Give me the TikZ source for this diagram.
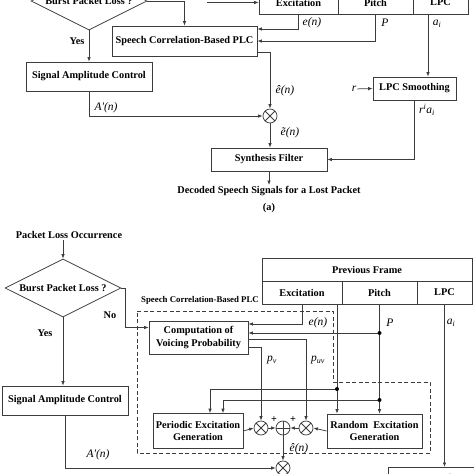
\documentclass[tikz,border=0pt]{standalone}
\usepackage{fontspec}
\setmainfont{Liberation Serif}
\usetikzlibrary{shapes.geometric, arrows.meta, positioning, calc}
\definecolor{linegray}{RGB}{60,60,60}

\begin{document}
\begin{tikzpicture}[
    x=1pt, y=-1pt,
    box/.style={rectangle, draw=linegray, line width=0.75pt, inner sep=0pt, align=center, font=\fontsize{10.3}{12.5}\selectfont\bfseries},
    cell/.style={box, minimum height=23pt},
    decision/.style={diamond, draw=linegray, line width=0.75pt, aspect=2, inner sep=0pt, minimum width=116pt, minimum height=58pt, font=\fontsize{10.3}{12.5}\selectfont\bfseries},
    mult/.style={circle, draw=linegray, line width=0.75pt, minimum size=14pt, inner sep=0pt,
        path picture={\draw[linegray, line width=0.75pt] ([shift={(45:7pt)}]path picture bounding box.center) -- ([shift={(225:7pt)}]path picture bounding box.center)
            ([shift={(135:7pt)}]path picture bounding box.center) -- ([shift={(315:7pt)}]path picture bounding box.center);}},
    adder/.style={circle, draw=linegray, line width=0.75pt, minimum size=14pt, inner sep=0pt,
        path picture={\draw[linegray, line width=0.75pt] ([shift={(0:7pt)}]path picture bounding box.center) -- ([shift={(180:7pt)}]path picture bounding box.center)
            ([shift={(90:7pt)}]path picture bounding box.center) -- ([shift={(270:7pt)}]path picture bounding box.center);}},
    plain/.style={font=\fontsize{10.3}{12.5}\selectfont\bfseries, inner sep=1pt},
    lbl/.style={font=\fontsize{11.5}{13}\selectfont\itshape, inner sep=1pt},
    arrow/.style={-{Latex[length=4.5pt, width=3.5pt]}, draw=linegray, line width=0.75pt},
    dashedbox/.style={draw=linegray, line width=0.75pt, dash pattern=on 4pt off 2.5pt},
    dot/.style={circle, fill=black, inner sep=0pt, minimum size=4pt}
]
    \useasboundingbox (0,0) rectangle (474,474);
    \clip (0,0) rectangle (474,474);

    % (a) upper flow
    \node[decision] (diaA) at (89,1) {Burst Packet Loss ?};
    \node[box, minimum width=145pt, minimum height=30pt] (spcA) at (184.5,41) {Speech Correlation-Based PLC};
    \node[box, minimum width=126pt, minimum height=29pt] (sascA) at (89,76.5) {Signal Amplitude Control};
    \node[cell, minimum width=79pt] (excA) at (298.5,2.5) {Excitation};
    \node[cell, minimum width=75pt] (pitA) at (375.5,2.5) {Pitch};
    \node[cell, minimum width=55pt] (lpcA) at (440.5,2.5) {LPC};
    \node[box, minimum width=83pt, minimum height=23pt] (lpcsA) at (414.5,88.5) {LPC Smoothing};
    \node[mult] (mulA) at (270,116) {};
    \node[box, minimum width=116pt, minimum height=23pt] (synthA) at (269,159.5) {Synthesis Filter};
    \node[plain] (outA) at (269,191) {Decoded Speech Signals for a Lost Packet};
    \node[plain] (capA) at (269,208) {(a)};

    % (a) labels
    \node[plain] (yesA) at (77,41) {Yes};
    \node[lbl] (ampA) at (106,108) {A\textquotesingle(n)};
    \node[lbl] (enA) at (312,23) {e(n)};
    \node[lbl] (pA) at (385,23) {P};
    \node[lbl] (aiA) at (437,24) {a\textsubscript{i}};
    \node[lbl] (rA) at (354,89) {r};
    \node[lbl, anchor=west] (riA) at (418,110) {r\textsuperscript{i}a\textsubscript{i}};
    \node[lbl] (ehatA) at (285,91) {\^e(n)};
    \node[lbl] (etilA) at (290,133) {\~e(n)};

    % (a) arrows
    \coordinate (inA) at (207,2.5);
    \draw[arrow] (diaA.east) -| (spcA.north);
    \draw[arrow] (diaA.south) -- (sascA.north);
    \draw[arrow] (inA) -- (excA.west);
    \draw[arrow] (excA.south) |- ([yshift=12pt]spcA.east);
    \draw[arrow] (pitA.south) |- (spcA.east);
    \draw[arrow] (lpcA.south -| 428,0) -- (lpcsA.north -| 428,0);
    \draw[arrow] (rA) -- (lpcsA.west);
    \draw[arrow] ([yshift=-11pt]spcA.east) -| (mulA.north);
    \draw[arrow] (sascA.south) |- (mulA.west);
    \draw[arrow] (mulA.south) -- (mulA.south |- synthA.north);
    \draw[arrow] (lpcsA.south) |- (synthA.east);
    \draw[arrow] (synthA.south) -- (outA.north);

    % (b) lower flow
    \node[plain] (pktB) at (69,235) {Packet Loss Occurrence};
    \node[decision] (diaB) at (63,288) {Burst Packet Loss ?};
    \node[box, minimum width=126pt, minimum height=29pt] (sascB) at (65,400.5) {Signal Amplitude Control};
    \node[box, minimum width=210pt, minimum height=23pt] (prevB) at (367,269.5) {Previous Frame};
    \node[cell, minimum width=80pt] (excB) at (302,292.5) {Excitation};
    \node[cell, minimum width=75pt] (pitB) at (379.5,292.5) {Pitch};
    \node[cell, minimum width=55pt] (lpcB) at (444.5,292.5) {LPC};
    \node[box, minimum width=99pt, minimum height=33pt] (compB) at (198.5,337.5) {Computation of\\Voicing Probability};
    \node[box, minimum width=90pt, minimum height=35pt] (perB) at (198,431) {Periodic Excitation\\Generation};
    \node[box, minimum width=95pt, minimum height=34pt] (ranB) at (374.5,431) {Random\ \ Excitation\\Generation};
    \node[mult] (mul1B) at (261,428) {};
    \node[adder] (addB) at (283,428) {};
    \node[mult] (mul2B) at (306,428) {};
    \node[mult] (mulC) at (283,468) {};
    \node[box, minimum width=90pt, minimum height=24pt, anchor=north west] (lpcsB) at (388,467) {LPC Smoothing};

    % dashed PLC block
    \draw[dashedbox] (137,311) -- (333,311) -- (333,382) -- (430,382) -- (430,453) -- (137,453) -- cycle;
    \node[plain, font=\fontsize{8.8}{10}\selectfont\bfseries] (plcB) at (200,300) {Speech Correlation-Based PLC};

    % (b) labels
    \node[plain] (noB) at (110,315) {No};
    \node[plain] (yesB) at (45,333) {Yes};
    \node[lbl] (enB) at (318,323) {e(n)};
    \node[lbl] (pB) at (390,323) {P};
    \node[lbl] (aiB) at (451,323) {a\textsubscript{i}};
    \node[lbl] (pvB) at (272,360) {p\textsubscript{v}};
    \node[lbl] (puvB) at (318,360) {p\textsubscript{uv}};
    \node[plain] (plus1B) at (274,420) {+};
    \node[plain] (plus2B) at (293,420) {+};
    \node[lbl] (ehatB) at (299,449) {\^e(n)};
    \node[lbl] (ampB) at (98,455) {A\textquotesingle(n)};
    \node[lbl] (rB) at (380,479) {r};

    % (b) arrows
    \coordinate (dotP1) at (379.5,333);
    \coordinate (dotP2) at (379.5,400);
    \coordinate (dotE) at (337,389);
    \draw[arrow] (diaB.north |- pktB.south) -- (diaB.north);
    \draw[arrow] (diaB.east) -- ++(4,0) |- ([yshift=10pt]compB.west);
    \draw[arrow] (diaB.south) -- (diaB.south |- sascB.north);
    \draw[arrow] (sascB.south) |- (mulC.west);
    \draw[arrow] (excB.south) |- ([yshift=13.5pt]compB.east);
    \draw[arrow] (pitB.south) -- (pitB.south |- ranB.north);
    \draw[arrow] (dotP1) -- (compB.east |- dotP1);
    \draw[arrow] (dotP2) -| ([xshift=25pt]perB.north);
    \draw[arrow] (excB.south -| dotE) -- (dotE |- ranB.north);
    \draw[arrow] (dotE) -| ([xshift=12pt]perB.north);
    \node[dot] at (dotP1) {};
    \node[dot] at (dotP2) {};
    \node[dot] at (dotE) {};
    \draw[arrow] ([yshift=-1.5pt]compB.east) -| (mul2B.north);
    \draw[arrow] ([yshift=-9.5pt]compB.east) -| (mul1B.north);
    \draw[arrow] (perB.east) -- (mul1B.west);
    \draw[arrow] (mul1B.east) -- (addB.west);
    \draw[arrow] (ranB.west) -- (mul2B.east);
    \draw[arrow] (mul2B.west) -- (addB.east);
    \draw[arrow] (addB.south) -- (mulC.north);
    \draw[arrow] (lpcB.south) -- (lpcB.south |- lpcsB.north);
    \draw[arrow] (rB) -- (lpcsB.west);
\end{tikzpicture}
\end{document}
